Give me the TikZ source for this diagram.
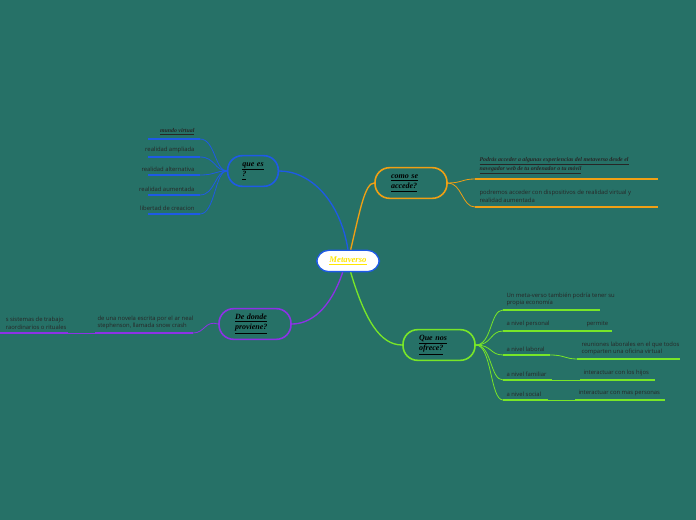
\documentclass[tikz,border=0pt]{standalone}
\usepackage{fontspec}
\setmainfont{Open Sans}
\newfontfamily\hand{Liberation Serif}
\newcommand\myul[1]{\underline{#1}}
\begin{document}
\begin{tikzpicture}[x=0.75pt,y=-0.75pt,
  topic/.style={draw=#1,line width=1.2pt,rounded corners=11pt,fill=none,font=\hand\bfseries\itshape\fontsize{6}{8}\selectfont,align=left,inner xsep=12pt,inner ysep=3pt,text width=30pt,minimum height=23pt},
  leaf/.style={font=\fontsize{4.4}{5.8}\selectfont,text=black!85,align=left,anchor=south west,inner sep=1pt},
  ul/.style={line width=1.3pt,#1},
  br/.style={line width=0.6pt,#1}]
\useasboundingbox (0,0) rectangle (696,520);
\fill[fill={rgb,255:red,38;green,113;blue,103}] (0,0) rectangle (696,520);
\definecolor{cb}{RGB}{30,90,230}
\definecolor{co}{RGB}{240,160,20}
\definecolor{cg}{RGB}{120,230,40}
\definecolor{cp}{RGB}{140,50,230}
% topic nodes
\node[topic=cb,inner xsep=11pt,text width=16pt] (que) at (253,171) {\myul{que es}\\\myul{?}};
\node[topic=co] (como) at (411,183) {\myul{como se}\\\myul{accede?}};
\node[topic=cg] (ofrece) at (439,345) {\myul{Que nos}\\\myul{ofrece?}};
\node[topic=cp] (donde) at (255,324) {\myul{De donde}\\\myul{proviene?}};
% central
\node[draw=cb,fill=white,line width=1pt,rounded corners=9pt,minimum width=47pt,minimum height=16pt,font=\hand\bfseries\itshape\fontsize{6.5}{8}\selectfont,text=yellow!90!orange] (meta) at (348,261) {\myul{Metaverso}};
\draw[br=cb,line width=1pt] (meta.north) .. controls (340,200) and (310,171) .. (que.east);
\draw[br=co,line width=1pt] ([xshift=2pt]meta.north) .. controls (360,210) and (365,183) .. (como.west);
\draw[br=cg,line width=1pt] ([xshift=2pt]meta.south) .. controls (365,320) and (380,345) .. (ofrece.west);
\draw[br=cp,line width=1pt] ([xshift=-4pt]meta.south) .. controls (330,310) and (310,324) .. (donde.east);
% que es leaves
\foreach \y/\t [count=\i] in {139/\myul{\hand\bfseries\itshape mundo virtual},157/realidad ampliada,175/realidad alternativa,195/realidad aumentada,214/libertad de creacion}{
  \coordinate (q\i) at (200,\y);
  \draw[ul=cb] (148,\y) -- (q\i);
  \node[leaf,anchor=south east] at (196,\y-2) {\t};
  \draw[br=cb] (q\i) .. controls (215,\y) and (215,171) .. (que.west);
}
% como leaves
\coordinate (c1) at (475,179); \coordinate (c2) at (475,207);
\draw[ul=co] (c1) -- (658,179); \draw[ul=co] (c2) -- (658,207);
\node[leaf] at (478,176) {\myul{\hand\bfseries\itshape Podrás acceder a algunas experiencias del metaverso desde el}\\\myul{\hand\bfseries\itshape navegador web de tu ordenador o tu móvil}};
\node[leaf] at (478,204) {podremos acceder con dispositivos de realidad virtual y\\realidad aumentada};
\draw[br=co] (como.east) .. controls (462,183) and (462,179) .. (c1);
\draw[br=co] (como.east) .. controls (462,183) and (462,207) .. (c2);
% ofrece leaves
\foreach \y/\t [count=\i] in {310/{Un meta-verso también podría tener su\\propia economía},331/a nivel personal,355/a nivel laboral,380/a nivel familiar,400/a nivel social}{
  \coordinate (o\i) at (503,\y);
  \draw[br=cg] (ofrece.east) .. controls (492,345) and (490,\y) .. (o\i);
  \node[leaf] at (505,\y-2) {\t};
}
\draw[ul=cg] (o1) -- (600,310);
\draw[ul=cg] (o2) -- (555,331); \draw[ul=cg] (555,331) -- (612,331);
\node[leaf] at (585,329) {permite};
\draw[ul=cg] (o3) -- (550,355); \draw[br=cg] (550,355) .. controls (565,355) and (565,359) .. (577,359); \draw[ul=cg] (577,359) -- (680,359);
\node[leaf] at (580,357) {reuniones laborales en el que todos\\comparten una oficina virtual};
\draw[ul=cg] (o4) -- (552,380); \draw[ul=cg] (580,380) -- (655,380); \draw[br=cg] (552,380) -- (580,380);
\node[leaf] at (582,378) {interactuar con los hijos};
\draw[ul=cg] (o5) -- (548,400); \draw[ul=cg] (575,400) -- (665,400); \draw[br=cg] (548,400) -- (575,400);
\node[leaf] at (577,398) {interactuar con mas personas};
% donde leaves
\coordinate (d1) at (193,333);
\draw[br=cp] (donde.west) .. controls (205,320) and (205,333) .. (d1);
\draw[ul=cp] (95,333) -- (d1);
\node[leaf] at (96,331) {de una novela escrita por el ar neal\\stephenson, llamada snow crash};
\draw[br=cp] (68,333) -- (95,333);
\draw[ul=cp] (-5,333) -- (68,333);
\node[leaf,anchor=south east] at (68,331) {s sistemas de trabajo\\raordinarios o rituales};
\end{tikzpicture}
\end{document}
